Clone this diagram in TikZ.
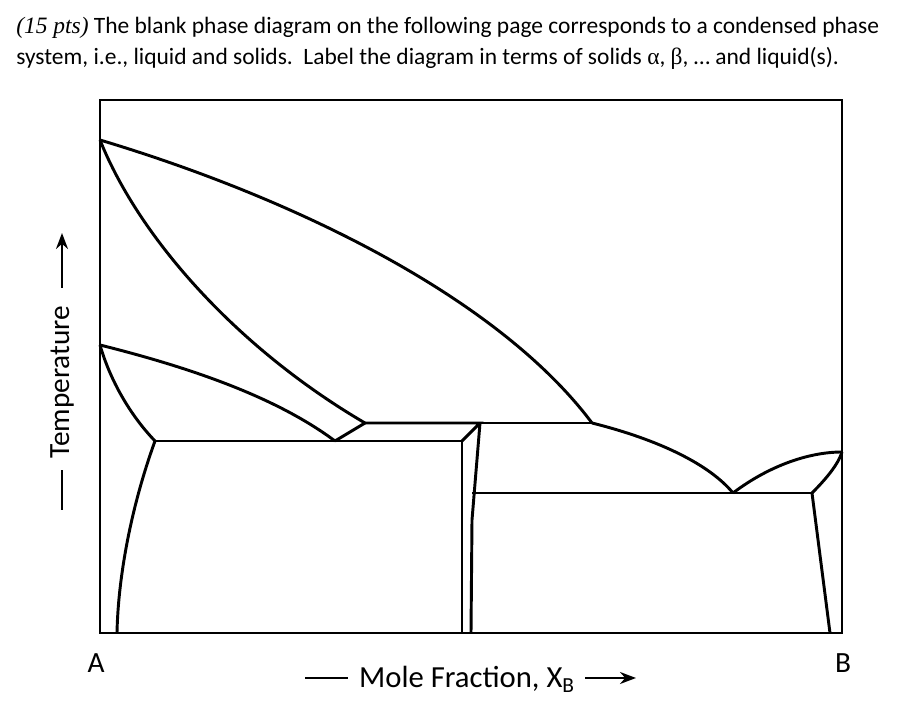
\documentclass[tikz,border=0pt]{standalone}
\usepackage{fontspec}
\setmainfont{Carlito}
\newfontfamily\tnr{Liberation Serif}
\usetikzlibrary{arrows.meta}
\begin{document}
\begin{tikzpicture}[x=0.75pt,y=-0.75pt,ph/.style={line width=2.2pt,line join=miter},
 txt/.style={anchor=west,inner sep=0,font=\fontsize{17.6}{20}\selectfont},
 ax/.style={line width=1.6pt}]
\useasboundingbox (0,0) rectangle (922,705);
\node[txt] (t1) at (16,28) {{\tnr\itshape (15 pts)} The blank phase diagram on the following page corresponds to a condensed phase};
\node[txt] (t2) at (16,58) {system, i.e., liquid and solids.\ \ Label the diagram in terms of solids {\tnr α}, {\tnr β}, \dots\ and liquid(s).};
\draw[ph] (100,100) rectangle (842,633);
\coordinate (Tm) at (100,140);
\coordinate (P1) at (365,423);
\coordinate (P2) at (592,423);
\coordinate (E1) at (335,441);
\coordinate (Tt) at (100,345);
\coordinate (S1) at (155,441);
\coordinate (C1) at (462,441);
\coordinate (C2) at (480,423);
\coordinate (E2) at (733,493);
\coordinate (R) at (842,452);
\coordinate (S2) at (812,493);
\draw[ph] (Tm) .. controls (300,200) and (500,300) .. (P2);
\draw[ph] (Tm) .. controls (140,240) and (240,350) .. (P1);
\draw[ph] (P1) -- (E1);
\draw[ph] (Tt) .. controls (200,370) and (280,400) .. (E1);
\draw[ph] (Tt) .. controls (110,380) and (130,415) .. (S1);
\draw[ph] (S1) .. controls (130,510) and (118,580) .. (117,633);
\draw[ph] (S1) -- (C1) -- (462,633);
\draw[ph] (C1) -- (C2) -- (P1);
\draw[ph] (C2) -- (P2);
\draw[ph] (C2) -- (472,520) -- (471,633);
\draw[ph] (472,493) -- (S2);
\draw[ph] (P2) .. controls (660,440) and (710,465) .. (E2);
\draw[ph] (E2) .. controls (770,465) and (810,452) .. (R);
\draw[ph] (S2) .. controls (825,480) and (838,465) .. (R);
\draw[ph] (S2) -- (830,633);
\node[font=\fontsize{22}{24}\selectfont] (A) at (96,663) {A};
\node[font=\fontsize{22}{24}\selectfont] (B) at (843,663) {B};
\node[font=\fontsize{22}{24}\selectfont,rotate=90] (T) at (62,382) {Temperature};
\draw[ax] (62,510) -- (62,470);
\draw[ax,-{Stealth[length=12pt,width=9pt]}] (62,288) -- (62,233);
\node[font=\fontsize{23}{26}\selectfont] (M) at (467,679) {Mole Fraction, X\textsubscript{B}};
\draw[ax] (305,678) -- (348,678);
\draw[ax,-{Stealth[length=12pt,width=9pt]}] (585,678) -- (636,678);
\end{tikzpicture}
\end{document}
